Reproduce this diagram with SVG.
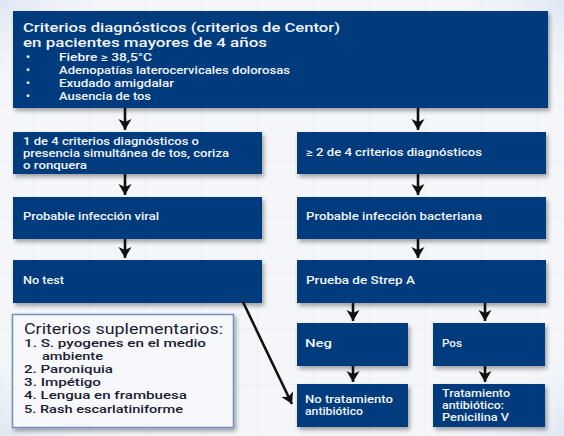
<svg xmlns="http://www.w3.org/2000/svg" width="564" height="436" viewBox="0 0 564 436">
  <defs>
    <filter id="sh" x="-10%" y="-10%" width="130%" height="140%">
      <feDropShadow dx="2" dy="3" stdDeviation="2" flood-color="#000" flood-opacity="0.35"/>
    </filter>
    <pattern id="grid" width="56" height="56" patternUnits="userSpaceOnUse" x="-23" y="-8">
      <path d="M0 0 H56 M0 0 V56" fill="none" stroke="#e3e7ee" stroke-width="1"/>
    </pattern>
    <radialGradient id="vig" cx="50%" cy="50%" r="75%">
      <stop offset="70%" stop-color="#ffffff" stop-opacity="0"/>
      <stop offset="100%" stop-color="#b9cbe6" stop-opacity="0.6"/>
    </radialGradient>
    <marker id="ah" viewBox="-1 -8 13 16" refX="11" refY="0" markerWidth="13" markerHeight="16" markerUnits="userSpaceOnUse" orient="auto">
      <path d="M0,-6.5 L11,0 L0,6.5 L3,0 Z" fill="#111"/>
    </marker>
  </defs>
  <style>
    .box { fill: #033b7e; filter: url(#sh); }
    .t { font-family: Roboto, "Liberation Sans", sans-serif; font-weight: 500; fill: #f2f5fa; font-size: 10.5px; }
    .title { font-size: 12.8px; font-weight: 500; }
    .bul { font-size: 11px; font-weight: 700; }
    .sup { fill: #f6f8fb; stroke: #6f8fc0; stroke-width: 1.5; filter: url(#sh); }
    .st { font-family: Roboto, "Liberation Sans", sans-serif; font-weight: 500; fill: #1b2030; font-size: 11px; }
    .sth { font-size: 14px; font-weight: 400; }
  </style>
  <rect width="564" height="436" fill="#f4f6f9"/>
  <rect width="564" height="436" fill="url(#grid)"/>
  <rect width="564" height="436" fill="url(#vig)"/>

  <g id="criterios-centor">
    <rect class="box" x="13" y="11" width="535" height="97"/>
    <text class="t title" x="23" y="32" textLength="317" lengthAdjust="spacingAndGlyphs">Criterios diagnósticos (criterios de Centor)</text>
    <text class="t title" x="23" y="47" textLength="244" lengthAdjust="spacingAndGlyphs">en pacientes mayores de 4 años</text>
    <text class="t bul" x="26" y="61">•</text>
    <text class="t" x="59" y="61" textLength="93" lengthAdjust="spacingAndGlyphs">Fiebre ≥ 38,5°C</text>
    <text class="t bul" x="26" y="74">•</text>
    <text class="t" x="59" y="74" textLength="231" lengthAdjust="spacingAndGlyphs">Adenopatías laterocervicales dolorosas</text>
    <text class="t bul" x="26" y="87">•</text>
    <text class="t" x="59" y="87" textLength="115" lengthAdjust="spacingAndGlyphs">Exudado amigdalar</text>
    <text class="t bul" x="26" y="100">•</text>
    <text class="t" x="59" y="100" textLength="92" lengthAdjust="spacingAndGlyphs">Ausencia de tos</text>
  </g>

  <g id="uno-de-cuatro">
    <rect class="box" x="13" y="132" width="249" height="42"/>
    <text class="t" x="23" y="144.5" textLength="176" lengthAdjust="spacingAndGlyphs">1 de 4 criterios diagnósticos o</text>
    <text class="t" x="23" y="156.5" textLength="206" lengthAdjust="spacingAndGlyphs">presencia simultánea de tos, coriza</text>
    <text class="t" x="23" y="168.5" textLength="64" lengthAdjust="spacingAndGlyphs">o ronquera</text>
  </g>

  <g id="dos-de-cuatro">
    <rect class="box" x="297" y="132" width="249" height="42"/>
    <text class="t" x="306" y="156" textLength="176" lengthAdjust="spacingAndGlyphs">≥ 2 de 4 criterios diagnósticos</text>
  </g>

  <g id="viral">
    <rect class="box" x="13" y="197" width="249" height="42"/>
    <text class="t" x="23" y="220" textLength="136" lengthAdjust="spacingAndGlyphs">Probable infección viral</text>
  </g>

  <g id="bacteriana">
    <rect class="box" x="297" y="197" width="249" height="42"/>
    <text class="t" x="306" y="220" textLength="176" lengthAdjust="spacingAndGlyphs">Probable infección bacteriana</text>
  </g>

  <g id="no-test">
    <rect class="box" x="13" y="260" width="249" height="43"/>
    <text class="t" x="23" y="284" textLength="41" lengthAdjust="spacingAndGlyphs">No test</text>
  </g>

  <g id="strep-a">
    <rect class="box" x="297" y="260" width="249" height="43"/>
    <text class="t" x="306" y="284" textLength="109" lengthAdjust="spacingAndGlyphs">Prueba de Strep A</text>
  </g>

  <g id="neg">
    <rect class="box" x="297" y="323" width="111" height="43"/>
    <text class="t" x="305" y="347" textLength="27" lengthAdjust="spacingAndGlyphs">Neg</text>
  </g>

  <g id="pos">
    <rect class="box" x="433" y="323" width="112" height="43"/>
    <text class="t" x="442" y="347" textLength="20" lengthAdjust="spacingAndGlyphs">Pos</text>
  </g>

  <g id="no-tratamiento">
    <rect class="box" x="297" y="384" width="111" height="43"/>
    <text class="t" x="305" y="403" textLength="88" lengthAdjust="spacingAndGlyphs">No tratamiento</text>
    <text class="t" x="305" y="415" textLength="58" lengthAdjust="spacingAndGlyphs">antibiótico</text>
  </g>

  <g id="tratamiento">
    <rect class="box" x="433" y="384" width="112" height="43"/>
    <text class="t" x="442" y="396.5" textLength="68" lengthAdjust="spacingAndGlyphs">Tratamiento</text>
    <text class="t" x="442" y="408.5" textLength="62" lengthAdjust="spacingAndGlyphs">antibiótico:</text>
    <text class="t" x="442" y="420.5" textLength="67" lengthAdjust="spacingAndGlyphs">Penicilina V</text>
  </g>

  <g id="criterios-suplementarios">
    <rect class="sup" x="12.5" y="314.5" width="221" height="113"/>
    <text class="st sth" x="24" y="333.5" textLength="199" lengthAdjust="spacingAndGlyphs">Criterios suplementarios:</text>
    <text class="st" x="24" y="347" textLength="182" lengthAdjust="spacingAndGlyphs">1. S. pyogenes en el medio</text>
    <text class="st" x="42" y="360" textLength="61" lengthAdjust="spacingAndGlyphs">ambiente</text>
    <text class="st" x="24" y="373" textLength="89" lengthAdjust="spacingAndGlyphs">2. Paroniquia</text>
    <text class="st" x="24" y="386" textLength="77" lengthAdjust="spacingAndGlyphs">3. Impétigo</text>
    <text class="st" x="24" y="399" textLength="163" lengthAdjust="spacingAndGlyphs">4. Lengua en frambuesa</text>
    <text class="st" x="24" y="412.5" textLength="159" lengthAdjust="spacingAndGlyphs">5. Rash escarlatiniforme</text>
  </g>

  <g id="connectors" stroke="#111" stroke-width="2.6" marker-end="url(#ah)">
    <line x1="125" y1="108" x2="125" y2="130"/>
    <line x1="418" y1="108" x2="418" y2="130"/>
    <line x1="125" y1="174" x2="125" y2="195"/>
    <line x1="418" y1="174" x2="418" y2="195"/>
    <line x1="125" y1="239" x2="125" y2="258"/>
    <line x1="418" y1="239" x2="418" y2="258"/>
    <line x1="353" y1="303" x2="353" y2="321"/>
    <line x1="485" y1="303" x2="485" y2="321"/>
    <line x1="353" y1="366" x2="353" y2="382"/>
    <line x1="485" y1="366" x2="485" y2="382"/>
    <line x1="243" y1="302" x2="292" y2="404"/>
  </g>
</svg>
